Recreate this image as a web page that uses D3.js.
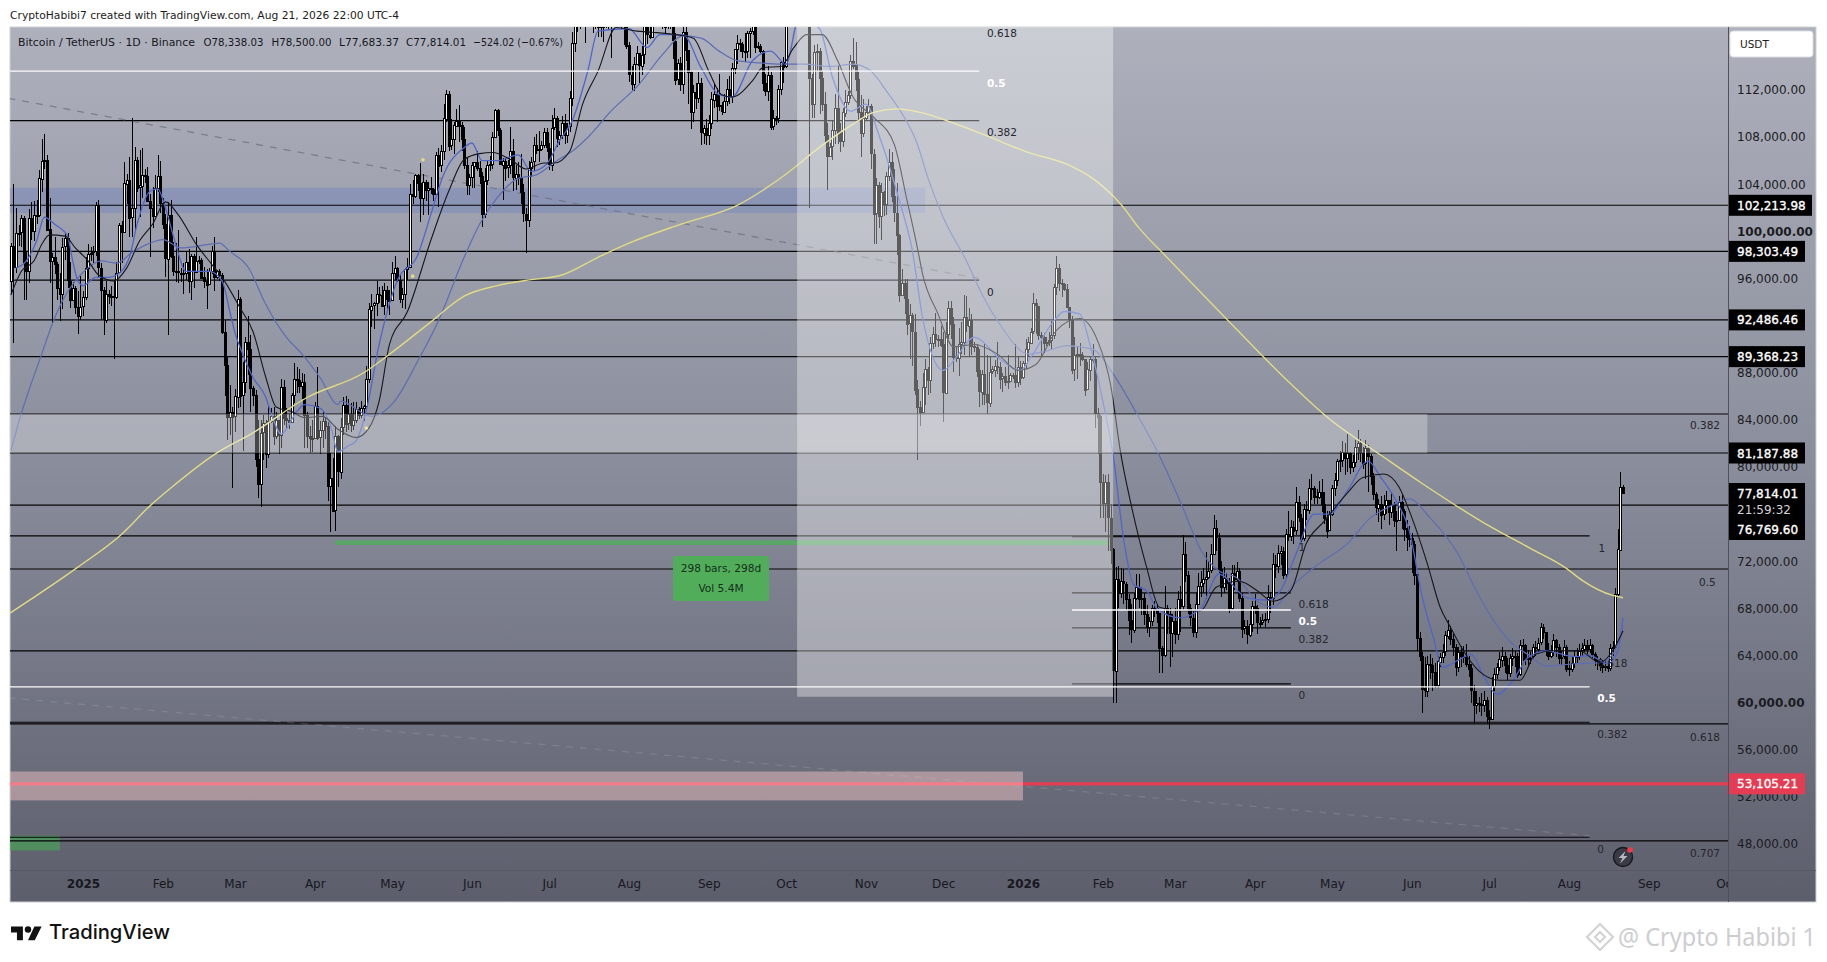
<!DOCTYPE html>
<html><head><meta charset="utf-8">
<script src="https://cdn.jsdelivr.net/npm/d3@7/dist/d3.min.js"></script>
<style>html,body{margin:0;padding:0;background:#fff;overflow:hidden}svg{display:block}text{font-family:"DejaVu Sans",sans-serif}</style>
</head><body><svg id="c" width="1827" height="962"></svg>
<script>
// ---- Daily candles in thousands USDT, first bar 2024-12-03, one row per month ----
const firstBar = "2024-12-03";
const closes = [
95.8,98.8,97.0,99.9,99.9,101.1,97.4,96.6,101.1,100.0,101.4,101.4,104.5,106.0,106.1,100.2,97.5,97.8,97.2,95.2,94.7,98.7,99.4,95.8,94.2,95.2,93.6,92.8,93.6,
94.4,96.9,98.1,98.2,98.3,102.2,96.9,95.0,92.5,94.7,94.5,94.5,94.5,96.5,100.5,99.9,104.1,104.4,101.2,102.0,106.1,103.7,103.9,104.8,104.7,102.6,102.0,101.3,103.7,104.7,102.4,
100.6,97.7,101.4,97.9,96.6,96.6,96.5,96.4,96.5,97.4,95.8,97.9,96.6,97.5,97.6,96.1,95.8,95.5,96.6,98.3,96.1,96.6,96.3,91.5,88.7,84.3,84.7,84.3,
86.0,94.3,86.1,87.2,90.6,90.0,86.7,86.1,80.7,78.6,82.9,83.7,81.1,83.9,84.3,82.6,84.0,82.7,86.8,84.2,84.0,83.8,86.1,87.5,87.4,86.9,87.2,84.4,82.6,82.4,82.5,
85.2,82.5,83.1,83.9,83.5,78.4,79.1,76.3,82.6,79.6,83.4,85.3,83.7,84.5,83.6,84.0,84.9,84.4,85.0,85.2,87.5,93.4,93.7,93.9,94.7,94.6,93.7,95.0,94.2,94.2,
96.5,96.9,95.9,94.3,94.7,96.8,97.0,103.2,103.0,104.8,104.1,102.8,104.2,103.5,103.7,103.6,103.2,106.5,105.6,106.8,109.6,111.7,107.3,107.8,109.0,109.4,109.0,107.8,105.6,103.9,104.6,
105.6,105.9,105.4,104.7,101.5,104.3,105.6,105.7,108.0,110.3,108.6,105.7,106.0,105.4,105.6,106.8,104.6,104.9,104.6,103.3,101.5,101.0,105.4,105.9,107.3,106.9,107.0,107.3,108.4,107.1,
105.7,108.8,109.6,107.9,108.2,109.2,108.2,108.9,111.3,116.0,117.5,117.4,119.1,120.0,117.8,118.6,119.2,118.0,117.9,117.3,117.4,120.0,118.8,118.3,117.6,117.9,119.4,118.1,117.9,117.8,115.8,
113.3,112.5,114.2,115.1,114.1,115.0,117.5,116.7,116.5,119.3,118.7,120.2,123.3,118.3,117.4,117.5,117.5,116.2,112.9,114.3,112.5,116.9,115.4,113.5,110.1,111.8,111.3,112.6,108.4,108.8,108.2,
109.2,111.2,111.7,110.7,110.7,110.2,111.1,112.1,111.5,113.9,115.5,116.0,115.9,115.3,115.3,116.8,117.0,117.5,115.6,115.7,115.3,112.6,111.9,113.3,108.9,109.6,109.6,112.1,114.4,114.0,
118.6,120.6,122.3,122.4,123.5,124.7,121.3,123.3,121.7,113.0,110.8,115.2,115.3,113.0,110.8,108.2,106.4,107.2,108.6,110.5,108.4,107.6,110.1,111.0,111.6,114.5,114.1,112.9,110.1,108.3,109.6,
110.1,110.6,106.6,101.5,103.9,101.3,103.3,102.3,104.7,105.9,103.0,101.6,99.7,94.6,95.6,94.3,92.2,92.9,91.5,86.6,85.1,84.7,86.8,88.3,87.4,90.5,91.3,90.9,90.9,90.4,
86.3,91.3,93.5,92.1,89.3,89.2,90.4,90.6,92.7,92.0,92.5,90.3,90.2,88.2,86.4,87.9,86.2,85.5,88.1,88.3,88.6,88.5,87.5,87.7,87.2,87.3,87.8,87.8,87.2,88.5,87.6,
88.8,90.0,90.6,91.5,93.9,93.7,91.2,91.0,90.5,90.6,90.8,91.2,95.3,96.9,95.6,95.5,95.1,93.6,92.6,88.3,89.5,89.6,89.5,89.2,86.6,88.3,89.2,89.2,84.6,84.3,78.7,
76.9,78.7,75.7,73.0,62.7,70.5,69.3,70.3,70.1,68.8,67.0,66.2,68.9,69.8,68.8,68.9,67.5,66.4,66.9,68.0,68.0,67.6,64.6,64.0,68.0,67.5,65.9,66.9,
65.8,68.8,68.2,72.6,70.8,68.0,67.2,66.0,68.4,69.9,70.2,70.5,70.7,71.2,72.6,74.8,74.0,71.3,69.8,70.6,70.2,68.0,71.0,70.5,71.2,68.9,66.3,66.5,65.8,66.7,68.2,
68.0,66.8,66.8,67.0,67.1,69.0,68.9,71.8,71.6,72.7,72.9,70.9,74.3,74.1,74.9,74.6,77.0,75.7,73.9,76.4,76.3,78.2,78.2,77.4,77.5,77.9,76.9,75.7,74.6,76.0,
78.2,78.9,80.5,80.6,81.3,80.8,81.2,80.0,80.4,81.7,82.0,81.2,80.3,81.6,80.9,79.2,77.7,76.6,76.9,76.0,76.8,77.2,76.2,76.9,75.5,75.5,77.0,76.3,74.8,74.0,74.0,
73.5,70.9,65.5,64.0,61.2,61.0,63.3,63.2,62.6,61.5,63.5,63.9,64.3,65.7,66.2,65.4,64.7,63.0,64.3,64.0,63.9,63.3,62.9,61.0,59.8,60.0,59.9,59.8,60.2,58.8,
58.6,61.4,62.4,63.0,63.7,64.0,63.2,62.5,63.8,64.0,64.0,62.4,64.9,64.9,63.7,63.8,63.9,64.7,64.6,65.1,66.4,66.0,64.5,64.0,64.3,65.3,64.7,63.8,63.9,64.7,62.8,
62.9,63.4,64.0,64.0,64.4,64.6,64.9,64.6,64.9,64.1,63.6,63.5,63.2,63.0,63.1,62.9,64.6,64.7,69.2,73.0,78.338,77.814];
const highs = [
96.3,99.0,104.0,102.0,100.5,101.4,101.3,98.3,101.9,102.5,102.6,102.7,105.2,107.8,108.3,106.5,102.8,98.2,99.5,97.4,96.5,99.4,99.9,99.9,97.4,95.7,95.4,94.9,96.2,
94.9,97.8,98.9,98.7,98.8,102.5,102.7,97.3,95.3,95.8,95.0,95.4,95.9,97.4,100.7,100.9,105.9,104.9,106.3,109.6,107.2,106.3,106.9,107.1,105.3,105.5,103.2,103.8,104.8,106.5,106.0,
102.8,101.5,102.5,102.7,99.1,99.0,100.1,96.9,97.3,98.3,98.5,98.1,98.1,99.5,97.9,97.7,97.0,96.8,96.9,98.8,99.5,96.7,96.8,96.5,92.5,89.3,87.0,85.1,
86.6,95.0,94.4,88.9,91.0,92.8,91.2,86.9,86.5,84.0,84.0,84.4,84.0,85.3,85.0,85.1,84.7,84.0,87.5,87.4,85.0,84.5,86.3,88.8,88.5,88.3,88.0,87.9,84.7,83.5,84.0,
85.5,88.5,83.9,84.7,84.2,83.8,81.2,80.8,83.5,82.7,84.2,85.9,86.0,85.8,85.4,85.5,85.5,85.1,85.6,85.3,88.6,93.9,94.7,94.0,95.8,95.3,95.4,95.6,95.4,95.0,
97.4,97.9,97.0,96.3,95.2,96.9,97.7,104.0,104.4,104.9,104.9,105.8,104.9,104.4,104.2,104.6,103.7,106.7,107.1,107.3,110.8,112.0,111.9,109.5,109.3,110.4,110.7,109.3,108.9,106.3,104.9,
105.9,105.9,106.8,106.0,105.0,105.4,106.0,106.4,108.4,110.4,110.4,108.8,106.2,106.2,106.1,108.9,107.8,105.6,105.9,106.6,104.0,102.0,106.0,106.3,108.0,108.3,108.5,107.7,108.8,108.8,
107.5,109.9,110.5,109.8,108.5,109.8,110.0,109.2,111.9,116.9,118.9,118.0,119.5,123.2,120.1,120.0,120.9,120.9,118.5,118.9,119.7,120.2,120.1,119.5,118.5,118.5,119.8,119.8,119.3,118.8,118.9,
116.1,114.0,114.8,115.7,115.1,115.7,117.7,117.9,117.9,119.4,122.3,120.3,123.7,124.5,119.2,118.0,118.6,117.6,116.8,114.6,114.8,117.4,117.4,115.3,113.6,112.4,112.6,113.5,113.0,109.0,109.5,
109.9,111.8,112.6,112.2,113.4,111.0,111.7,112.9,113.2,114.3,115.5,116.7,116.3,116.1,116.8,117.0,117.3,118.0,117.5,116.1,115.9,115.4,113.4,114.0,113.5,110.3,109.8,112.4,114.5,114.8,
118.6,121.0,123.9,122.8,125.7,126.2,125.1,124.2,123.8,122.5,113.4,115.8,115.9,115.6,113.6,111.8,109.2,107.5,109.4,111.7,114.0,109.2,110.5,112.0,111.9,115.0,116.4,116.1,113.6,111.6,111.2,
110.6,111.2,110.8,107.0,104.5,104.2,104.1,103.4,105.0,107.0,106.7,105.3,104.1,99.8,96.8,96.0,96.0,93.8,93.1,93.0,87.4,85.6,88.0,89.2,88.5,91.0,91.9,93.1,91.2,92.0,
91.5,92.3,94.1,94.1,92.7,90.3,91.8,92.3,94.6,94.5,93.5,93.0,90.6,90.4,90.0,88.2,90.4,89.5,89.4,88.6,89.1,90.6,88.9,88.0,88.5,89.5,88.0,88.0,90.4,89.4,89.0,
89.0,90.9,91.0,91.8,94.8,94.3,93.6,91.5,91.4,91.0,91.5,92.4,95.5,97.9,97.2,96.0,95.6,95.5,93.4,92.8,91.0,90.3,90.5,89.8,89.2,88.9,89.4,90.4,89.3,85.0,84.4,
79.4,79.3,79.4,76.9,73.1,71.5,71.6,71.4,71.3,70.2,69.2,68.4,69.3,70.9,70.9,69.8,69.3,68.3,67.3,68.3,68.6,68.4,67.6,64.8,69.9,68.3,68.0,67.5,
68.0,69.5,69.9,74.2,73.6,71.2,68.4,67.8,69.3,71.0,71.2,71.4,72.8,72.0,73.5,75.9,75.5,74.4,72.0,71.5,71.0,70.6,71.7,71.7,71.9,71.4,69.3,67.0,67.0,67.9,68.6,
69.2,68.3,67.3,67.5,67.6,70.0,69.4,72.7,72.5,73.4,73.3,73.2,74.7,76.3,75.5,75.4,78.3,77.5,76.0,76.9,77.1,79.0,79.4,78.4,78.1,78.8,79.0,77.9,76.3,76.3,
78.5,79.5,80.7,81.4,82.2,82.0,82.8,81.3,81.0,82.3,83.1,82.4,81.7,82.3,81.9,81.1,79.5,77.9,77.3,77.5,77.6,78.0,77.0,77.9,77.0,76.3,77.5,77.6,76.4,75.5,75.0,
74.4,73.7,71.0,66.0,64.3,63.9,64.0,64.1,63.8,63.4,64.0,64.2,65.0,66.1,67.0,66.5,65.8,65.0,64.7,64.8,64.8,65.0,64.0,63.3,61.5,61.0,60.5,60.8,61.0,60.5,
59.4,62.2,62.9,63.4,64.3,64.7,64.3,63.8,64.1,64.6,64.4,64.2,65.3,65.4,65.0,64.5,64.3,65.0,65.2,65.5,66.8,66.7,66.0,65.1,64.9,65.8,65.4,65.0,64.5,65.3,64.9,
63.5,64.0,64.4,64.6,65.0,65.1,65.4,65.3,65.4,65.0,64.3,64.0,63.8,63.6,63.6,63.4,65.0,65.2,69.7,74.7,79.6,78.5];
const lows = [
93.6,94.7,90.5,96.5,98.8,98.7,94.2,94.2,95.6,99.3,99.2,100.6,101.2,103.3,105.3,100.0,95.6,92.2,96.4,94.2,92.4,93.4,97.6,95.2,93.5,94.1,93.0,91.3,92.5,
92.8,94.2,96.0,97.5,97.3,97.9,96.1,92.5,91.2,92.2,93.8,93.7,89.2,94.3,96.5,97.3,100.0,102.3,99.5,99.5,100.1,103.3,101.2,102.8,104.1,102.5,97.8,100.3,101.3,103.3,101.6,
100.2,96.1,91.2,97.7,96.2,95.7,95.6,95.7,94.7,95.9,94.8,94.2,95.2,96.5,97.2,96.0,95.2,93.4,95.5,96.4,94.9,96.0,95.8,91.3,86.0,82.3,82.7,78.2,
83.0,85.0,85.1,81.4,86.3,87.8,84.7,85.2,80.0,77.4,76.6,80.6,79.9,80.8,83.7,81.9,82.4,81.1,81.6,83.6,83.2,83.2,83.7,85.4,86.3,86.3,85.8,81.6,81.6,81.2,81.3,
82.4,82.3,81.1,81.6,82.4,77.1,74.5,76.2,74.6,78.3,79.0,82.7,83.0,83.1,83.0,83.1,83.7,84.1,84.2,83.9,85.1,87.1,91.9,91.7,92.8,93.9,93.6,92.9,93.4,92.9,
94.1,95.9,95.7,93.9,93.5,93.4,95.9,96.9,102.3,102.8,103.4,100.8,101.4,102.6,101.4,103.2,102.6,103.1,102.1,105.0,106.1,109.3,106.8,106.9,106.6,108.9,107.6,106.8,105.3,103.1,103.1,
103.7,103.7,105.1,104.0,100.4,101.1,103.9,105.1,105.3,108.3,108.1,105.6,102.7,104.3,104.5,104.9,103.4,103.5,103.9,102.3,100.8,98.2,100.4,104.6,105.1,106.6,105.9,106.8,107.1,106.7,
105.2,105.1,108.6,107.2,107.3,107.8,107.4,107.5,108.4,110.6,115.2,116.9,117.2,118.9,116.0,117.4,117.7,116.8,117.2,116.5,116.5,116.1,117.3,117.1,114.7,117.4,117.8,117.4,117.2,115.8,115.5,
112.7,112.0,111.9,114.1,112.6,113.3,114.2,115.9,116.3,116.5,118.1,118.2,118.9,117.2,116.8,117.2,117.2,114.6,112.4,112.4,111.9,111.7,114.5,110.8,108.7,109.3,110.4,110.9,107.3,107.4,107.3,
107.3,108.7,110.5,109.3,110.2,109.9,110.1,110.6,110.8,110.9,113.4,114.2,115.2,114.7,114.4,114.7,114.7,116.7,115.1,115.5,115.1,111.9,111.5,111.1,108.6,108.6,109.0,109.2,111.6,112.6,
113.9,118.3,119.3,121.6,122.1,123.1,120.6,121.0,119.8,102.0,109.6,109.6,113.6,110.0,110.2,107.5,103.5,106.3,106.1,107.4,107.4,106.7,107.2,109.7,110.7,111.2,113.8,111.9,109.4,106.3,108.0,
109.4,109.8,105.3,98.9,98.9,100.3,99.3,101.3,101.4,104.3,102.5,100.8,98.0,94.0,94.6,93.0,91.2,89.2,88.6,86.1,80.6,83.5,84.7,85.3,86.1,86.3,90.0,90.2,90.2,90.2,
83.8,86.2,90.9,90.9,88.1,88.9,87.7,89.6,89.5,91.5,89.3,89.5,89.8,87.6,85.1,85.3,85.3,84.5,85.1,87.9,87.6,87.9,86.6,86.4,86.9,86.6,87.2,87.5,86.7,86.8,87.0,
87.5,88.3,89.3,90.5,91.3,91.3,90.8,89.3,89.7,90.3,90.3,90.0,90.9,94.6,94.9,94.4,94.9,93.5,91.8,87.9,87.3,87.5,88.6,89.0,86.0,86.5,87.3,88.8,83.3,81.1,75.7,
75.7,74.5,72.9,71.8,60.0,60.0,68.0,68.9,68.4,67.9,65.7,65.1,65.9,68.7,68.0,67.4,66.6,65.9,65.6,66.5,67.3,66.8,62.5,62.5,63.9,65.8,63.0,63.9,
65.0,65.3,66.0,67.9,70.2,67.5,66.5,65.6,65.5,68.4,69.0,69.3,68.8,70.5,71.0,72.5,72.9,71.0,69.0,69.3,69.6,67.6,67.9,69.6,70.2,68.5,65.5,65.8,65.0,65.6,66.0,
67.5,65.8,66.3,66.6,66.4,66.8,67.6,68.3,70.6,71.0,71.7,70.5,70.6,73.7,73.7,73.5,74.2,75.3,73.6,73.7,75.5,76.0,77.2,76.9,76.9,77.3,76.2,75.2,74.0,74.8,
75.8,77.5,78.4,79.6,80.0,79.3,79.6,79.4,79.6,80.0,80.6,80.4,79.8,79.0,77.9,78.5,77.2,75.9,75.3,74.7,75.5,76.0,75.1,75.7,74.9,72.9,75.5,74.7,73.7,72.9,73.2,
71.0,70.0,64.4,63.5,59.1,60.5,60.5,62.0,61.0,61.2,61.2,63.0,63.4,64.0,65.4,64.9,64.0,62.3,62.6,63.0,63.4,63.0,62.2,60.0,58.2,59.0,59.2,58.9,59.2,58.2,
57.8,58.5,61.0,62.0,62.7,63.0,62.5,61.9,62.2,63.1,63.0,62.1,62.3,63.5,63.2,63.0,63.3,63.7,64.0,64.3,64.9,65.4,64.0,63.6,63.8,64.0,63.9,63.3,63.2,63.7,62.6,
62.3,62.6,62.9,63.4,63.6,64.0,64.3,64.1,64.2,63.8,63.1,62.8,62.7,62.5,62.7,62.6,62.7,64.0,64.5,69.0,73.1,77.683];

// ---- Moving averages: day counted from 2025-01-01, value in thousands USDT ----
const maLongDays = [-29,-20,-2,15,26,34,52,66,87,109,121,135,148,161,174,186,200,212,232,254,272,287,299,307,316,325,338,351,367,382,392,403,410,420,443,465,485,504,520,546,562,576,582,594,598];
const maLongVals = [67.5,68.8,71.5,74.3,76.7,78.2,81.2,82.9,85.9,88.0,89.9,92.3,94.5,95.4,95.9,96.3,97.8,99.0,100.6,102.2,104.7,107.3,109.1,110.1,110.4,110.1,109.2,108.1,106.7,105.7,104.5,102.3,100.3,98.0,92.8,87.9,83.9,81.0,78.6,75.0,73.1,71.4,70.4,69.1,68.9];
const maFastDays = [-26,-22,-18,-15,-11,-6,-4,-2,0,5,10,13,18,21,26,29,32,36,40,49,54,57,59,62,66,71,73,77,83,86,92,96,99,103,106,110,115,122,130,135,140,148,151,155,161,169,174,180,185,190,196,200,212,219,224,233,240,247,252,260,267,273,278,286,291,298,304,309,317,322,326,334,339,346,357,364,368,377,381,387,391,396,400,404,408,413,417,426,434,441,452,460,465,471,478,484,491,499,504,510,515,520,524,528,534,539,544,549,555,561,568,579,585,592,596,598];
const maFastVals = [96.9,97.5,99.2,101.2,100.6,99.6,97.5,95.8,95.4,96.1,96.1,96.3,97.8,100.6,103.4,103.6,102.0,98.9,96.6,96.6,95.8,93.2,91.4,89.6,87.6,85.9,84.6,82.8,84.7,85.3,85.0,83.6,81.3,81.8,82.2,84.8,90.4,95.8,98.0,101.4,104.8,107.1,107.5,106.0,106.0,106.5,105.1,105.7,107.7,109.4,113.6,117.0,117.2,115.6,116.7,116.7,113.9,111.6,111.4,114.5,115.3,114.2,118.1,117.2,113.1,110.2,110.8,108.2,102.6,98.4,92.7,88.2,89.3,91.0,89.0,88.2,89.3,92.4,93.2,93.0,90.4,85.6,81.0,74.0,70.0,69.5,68.0,67.2,68.0,70.9,68.9,68.7,69.5,72.6,76.0,76.0,78.0,80.5,79.1,77.1,74.6,69.0,65.8,63.0,63.6,64.1,62.2,60.7,61.8,63.8,64.4,63.9,64.0,63.3,64.4,67.2];
const maMidDays = [-28,-24,-19,-16,-13,-7,-3,2,6,12,17,22,27,32,37,44,50,54,61,66,71,75,81,86,93,99,106,111,115,119,126,135,142,148,154,159,166,172,179,183,189,194,200,207,215,221,230,237,243,248,252,260,264,271,276,281,287,293,299,307,315,320,324,326,332,338,346,355,363,370,378,387,394,399,403,407,413,418,426,434,440,449,456,462,469,475,482,491,497,505,511,516,522,527,531,536,542,550,558,564,571,581,589,594,598];
const maMidVals = [94.6,96.6,97.5,98.9,99.7,99.6,98.6,97.5,96.3,95.8,96.9,99.2,100.6,102.5,101.4,98.9,97.2,96.1,93.5,91.5,87.6,85.1,84.7,84.2,84.3,83.2,82.5,83.3,85.6,90.4,93.2,99.2,103.4,106.1,106.6,106.7,106.1,105.3,105.8,105.8,106.8,110.8,113.6,117.3,117.0,116.9,116.7,116.4,113.6,111.6,111.4,112.8,113.9,114.0,115.6,116.7,116.7,114.5,111.4,109.7,107.4,102.6,98.6,96.4,93.0,90.2,90.4,89.6,88.2,88.7,91.6,92.6,90.7,87.0,81.1,76.8,71.5,68.1,67.8,67.8,69.8,70.3,69.5,68.6,69.5,73.5,75.4,77.8,79.1,79.4,78.3,75.7,71.8,68.1,66.4,64.4,62.7,61.9,61.9,64.1,64.4,64.4,63.4,64.4,66.1];
const maSlowDays = [-28,-24,-16,-12,-8,-3,2,7,13,19,26,31,38,49,53,57,64,71,79,85,92,99,100,112,121,130,138,148,154,161,169,176,184,190,197,205,216,225,233,240,247,254,263,271,280,290,299,306,312,318,324,328,334,343,349,357,367,375,382,392,400,410,417,426,435,441,448,456,462,470,480,491,500,507,515,523,534,541,548,555,561,568,579,589,594,598];
const maSlowVals = [81.4,84.5,89.6,92.1,94.1,95.8,96.9,97.5,97.3,98.2,99.0,99.3,98.6,98.9,99.0,98.3,97.0,93.8,91.0,89.6,87.6,85.3,85.6,84.3,85.6,89.0,92.4,97.8,100.6,102.9,104.5,104.8,106.0,106.8,108.2,110.2,112.5,115.0,116.6,116.4,115.3,114.5,114.3,114.2,114.2,114.0,114.2,113.6,111.9,110.0,107.4,104.6,101.2,97.5,94.7,91.8,89.6,89.9,90.3,90.0,87.9,84.2,81.4,77.1,72.6,71.2,70.6,68.6,68.1,70.0,71.8,73.5,75.7,76.6,77.3,75.7,72.6,69.5,66.9,65.0,64.1,63.1,63.3,63.4,64.1,66.5];

// ---- Drawn levels: [value, first day, last day] ----
const DAYL = -29, FIB3 = 348, FIBR = 585, FIB2A = 384, FIB2B = 469, END = 640;
const blackLevels = [[109.4,DAYL,FIB3],[102.21398,DAYL,END],[98.30349,DAYL,END],[95.86,DAYL,FIB3],[92.48646,DAYL,END],[89.36823,DAYL,END],[84.5,DAYL,END],[81.18788,DAYL,END],[76.7696,DAYL,END],[74.15,DAYL,FIBR],[74.08,FIB2A,FIB2B],[71.34,DAYL,END],[69.31,FIB2A,FIB2B],[66.34,FIB2A,FIB2B],[64.39,DAYL,FIBR],[61.59,FIB2A,FIB2B],[58.33,DAYL,FIBR],[58.2,DAYL,END],[48.57,DAYL,FIBR],[48.27,DAYL,END]];
const whiteLevels = [[113.6,DAYL,FIB3],[67.86,FIB2A,FIB2B],[61.33,DAYL,FIBR]];
const fibLabels = [["0.618",FIB3+3,116.84,0],["0.5",FIB3+3,112.6,1],["0.382",FIB3+3,108.44,0],["0",FIB3+3,94.87,0],
 ["1",FIB2A+88,73.17,0],["0.618",FIB2B+3,68.34,0],["0.5",FIB2B+3,66.9,1],["0.382",FIB2B+3,65.37,0],["0",FIB2B+3,60.62,0],
 ["1",FIBR+3.5,73.15,0],["0.618",FIBR+3,63.4,0],["0.5",FIBR+3,60.4,1],["0.382",FIBR+3,57.3,0],["0",FIBR+3,47.6,0],
 ["0.382",624,83.55,0],["0.5",627.5,70.25,0],["0.618",624,57.1,0],["0.707",624,47.2,0]];
const trendDays1 = [-29,348], trendVals1 = [111.3,96.0];
const trendDays2 = [-29,585], trendVals2 = [60.4,48.7];
const dotDays = [132,128,110], dotVals = [106.07,96.2,83.3];

// ---- Axis text ----
const priceTicks = [112,108,104,100,96,88,84,80,72,68,64,60,56,52,48];
const boldPrices = [100,60];
const priceTags = [[102.21398,"102,213.98"],[98.30349,"98,303.49"],[92.48646,"92,486.46"],[89.36823,"89,368.23"],[81.18788,"81,187.88"]];
const monthTicks = ["2025-01-01","2025-02-01","2025-03-01","2025-04-01","2025-05-01","2025-06-01","2025-07-01","2025-08-01","2025-09-01","2025-10-01","2025-11-01","2025-12-01","2026-01-01","2026-02-01","2026-03-01","2026-04-01","2026-05-01","2026-06-01","2026-07-01","2026-08-01","2026-09-01","2026-10-01"];

const L=10,R=1728,T=27,B=870,FR=1816,FB=902;
const svg=d3.select("#c"), defs=svg.append("defs");
const day0=new Date(Date.UTC(2025,0,1));
const x=d3.scaleUtc().domain([day0,new Date(Date.UTC(2026,0,1))]).range([83,83+365*2.5753]);
const xd=d=>x(d3.utcDay.offset(day0,Math.floor(d)))+(d-Math.floor(d))*2.5753;
const y=d3.scaleLinear().domain([48,112]).range([844,90]);

const g=defs.append("linearGradient").attr("id","bg").attr("x1",0).attr("x2",0).attr("y1",0).attr("y2",1);
[[0,"#aeb1bc"],[.5,"#8a8d9b"],[1,"#5c5e6c"]].forEach(s=>g.append("stop").attr("offset",s[0]).attr("stop-color",s[1]));
defs.append("clipPath").attr("id","plot").append("rect").attr("x",L).attr("y",T).attr("width",R-L).attr("height",B-T);
defs.append("clipPath").attr("id","tx").append("rect").attr("x",L).attr("y",B).attr("width",R-L).attr("height",FB-B);

svg.append("rect").attr("x",L).attr("y",T).attr("width",FR-L).attr("height",FB-T).attr("fill","url(#bg)").attr("stroke","#cfcfd2").attr("stroke-width",1);

const plot=svg.append("g").attr("clip-path","url(#plot)");
const band=(d0,d1,v0,v1,fill,parent)=>(parent||plot).append("rect").attr("x",xd(d0)).attr("width",xd(d1)-xd(d0)).attr("y",y(v0)).attr("height",y(v1)-y(v0)).attr("fill",fill);

// lower layers
band(DAYL,327,103.7,101.57,"rgba(110,128,190,.42)");
band(98,398,73.78,73.38,"rgba(84,170,96,.85)");
band(DAYL,-9,48.7,47.45,"rgba(72,165,85,.65)");

const hl=(lv,col,w)=>plot.append("g").selectAll("line").data(lv).join("line")
 .attr("x1",d=>xd(d[1])).attr("x2",d=>xd(d[2])).attr("y1",d=>y(d[0])).attr("y2",d=>y(d[0]))
 .attr("stroke",col).attr("stroke-width",w);
hl(blackLevels,"#050507",1.15);
const tl=(ds,vs,col)=>plot.append("path").datum(ds.map((d,i)=>[d,vs[i]])).attr("fill","none").attr("stroke",col).attr("stroke-width",1.3).attr("stroke-dasharray","7 7").attr("d",d3.line().x(d=>xd(d[0])).y(d=>y(d[1])));
tl(trendDays1,trendVals1,"rgba(110,113,125,.75)");
tl(trendDays2,trendVals2,"rgba(190,193,202,.2)");
plot.append("line").attr("x1",L).attr("x2",R).attr("y1",y(53.10521)).attr("y2",y(53.10521)).attr("stroke","#e43c52").attr("stroke-width",3.2);

// candles
const start=new Date(firstBar+"T00:00:00Z");
const bars=closes.map((c,i)=>{const o=i?closes[i-1]:95.4;return{t:d3.utcDay.offset(start,i),o,c,h:Math.max(highs[i],o,c),l:Math.min(lows[i],o,c)}});
const cx=d=>Math.round(x(d.t));
const cg=plot.append("g").attr("shape-rendering","crispEdges");
cg.selectAll("line").data(bars).join("line").attr("x1",d=>cx(d)+.5).attr("x2",d=>cx(d)+.5).attr("y1",d=>y(d.h)).attr("y2",d=>y(d.l)).attr("stroke","#000").attr("stroke-width",1);
cg.selectAll("rect").data(bars).join("rect").attr("x",d=>cx(d)-.5).attr("width",2)
 .attr("y",d=>Math.round(y(Math.max(d.o,d.c)))+.5).attr("height",d=>Math.max(1,Math.round(Math.abs(y(d.o)-y(d.c)))))
 .attr("fill",d=>d.c>=d.o?"#fff":"#000").attr("stroke","#000").attr("stroke-width",1);

// moving averages
const ma=(ds,vs,col,w)=>plot.append("path").datum(ds.map((d,i)=>[d,vs[i]])).attr("fill","none").attr("stroke",col).attr("stroke-width",w).attr("stroke-linejoin","round")
 .attr("d",d3.line().curve(d3.curveMonotoneX).x(d=>xd(d[0])).y(d=>y(d[1])));
ma(maSlowDays,maSlowVals,"#5f6db3",1.2);
ma(maFastDays,maFastVals,"#4f66c8",1.3);
ma(maMidDays,maMidVals,"#16161c",1.1);
ma(maLongDays,maLongVals,"#e0db82",1.4);
plot.append("g").selectAll("circle").data(dotDays).join("circle").attr("cx",d=>xd(d)).attr("cy",(d,i)=>y(dotVals[i])).attr("r",1.8).attr("fill","#e3dc85");

// translucent overlays
band(277.3,400,117.5,60.5,"rgba(255,255,255,.36)");
band(DAYL,522,84.5,81.19,"rgba(255,255,255,.28)");
band(DAYL,365,54.15,51.7,"rgba(255,205,205,.45)");
hl(whiteLevels,"#fbfbfd",1.3);

// label over the chart
const lab=svg.append("g").attr("clip-path","url(#plot)");
lab.selectAll("text").data(fibLabels).join("text").attr("x",d=>xd(d[1])).attr("y",d=>y(d[2])+4)
 .attr("font-size",10.5).attr("fill",d=>d[3]?"#fff":"#25262d").attr("font-weight",d=>d[3]?"bold":"normal").text(d=>d[0]);

// measure label
const mx=721;
svg.append("rect").attr("x",673).attr("y",556).attr("width",96).attr("height",45).attr("rx",3).attr("fill","#52ad5a");
svg.append("text").attr("x",mx).attr("y",572).attr("text-anchor","middle").attr("font-size",10.6).attr("fill","#12301a").text("298 bars, 298d");
svg.append("text").attr("x",mx).attr("y",592).attr("text-anchor","middle").attr("font-size",10.6).attr("fill","#12301a").text("Vol 5.4M");

// price axis
svg.append("line").attr("x1",R+.5).attr("x2",R+.5).attr("y1",T).attr("y2",FB).attr("stroke","#4f515c").attr("stroke-width",1);
const ya=svg.append("g").attr("transform",`translate(${R},0)`).call(d3.axisRight(y).tickValues(priceTicks).tickSize(0).tickPadding(9).tickFormat(v=>d3.format(",.2f")(v*1000)));
ya.select(".domain").remove();
ya.selectAll("text").attr("font-size",12).attr("font-family",'"DejaVu Sans"').attr("fill","#1b1c22").attr("font-weight",v=>boldPrices.includes(v)?"bold":"normal");

// price tags
const tags=svg.append("g");
const tt=(xp,yp,s,col,st)=>tags.append("text").attr("x",xp).attr("y",yp).attr("font-size",12).attr("fill",col).attr("stroke",st?col:"none").attr("stroke-width",st?.35:0).text(s);
const tag=(v,s,col)=>{const yy=y(v),w=s.length>9?83:76;
 tags.append("rect").attr("x",R+1).attr("y",yy-10.5).attr("width",w).attr("height",21).attr("fill",col);
 tt(R+9,yy+4.5,s,"#fff",1);};
priceTags.forEach(d=>tag(d[0],d[1],"#000"));
tag(53.10521,"53,105.21","#e43c52");
tags.append("rect").attr("x",R+1).attr("y",483).attr("width",76).attr("height",57).attr("fill","#000");
tt(R+9,497.5,"77,814.01","#fff",1);
tt(R+9,513.5,"21:59:32","#d4d4d8",0);
tt(R+9,533.5,"76,769.60","#fff",1);

// USDT button
svg.append("rect").attr("x",1730).attr("y",31).attr("width",83).attr("height",26).attr("rx",3).attr("fill","#fff").attr("stroke","#dcdde2");
svg.append("text").attr("x",1740).attr("y",48).attr("font-size",10.5).attr("fill","#1b1c22").text("USDT");

// time axis
svg.append("line").attr("x1",L).attr("x2",FR).attr("y1",B+.5).attr("y2",B+.5).attr("stroke","#555763").attr("stroke-width",.8);
const monthDates=monthTicks.map(s=>new Date(s+"T00:00:00Z"));
const xa=svg.append("g").attr("clip-path","url(#tx)").append("g").attr("transform",`translate(0,${B})`)
 .call(d3.axisBottom(x).tickValues(monthDates).tickSize(0).tickPadding(9).tickFormat(d=>d.getUTCMonth()===0?String(d.getUTCFullYear()):d3.utcFormat("%b")(d)));
xa.select(".domain").remove();
xa.selectAll("text").attr("font-size",12).attr("font-family",'"DejaVu Sans"').attr("fill","#17181e").attr("font-weight",d=>d.getUTCMonth()===0?"bold":"normal");

// alert icon
const ic=svg.append("g").attr("transform","translate(1623,857)");
ic.append("circle").attr("r",9.5).attr("fill","#3a3b45").attr("stroke","#17181e").attr("stroke-width",1.4);
ic.append("path").attr("d","M2.5-6 L-4.5 1 L-.5 1 L-3 6.5 L4.5-1 L.5-1 Z").attr("fill","#b7b8c2");
ic.append("circle").attr("cx",7).attr("cy",-7).attr("r",2.8).attr("fill","#f03a4a");

// heading texts
svg.append("text").attr("x",10).attr("y",19).attr("font-size",11).attr("textLength",389).attr("lengthAdjust","spacingAndGlyphs").attr("fill","#1c1c22").text("CryptoHabibi7 created with TradingView.com, Aug 21, 2026 22:00 UTC-4");
const legend=[["Bitcoin / TetherUS · 1D · Binance",18,177],["O78,338.03",203.5,60],["H78,500.00",271.5,60],["L77,683.37",339,60],["C77,814.01",406,60],["−524.02 (−0.67%)",473,90]];
svg.append("g").selectAll("text").data(legend).join("text").attr("x",d=>d[1]).attr("y",46).attr("font-size",11).attr("textLength",d=>d[2]).attr("lengthAdjust","spacingAndGlyphs").attr("fill","#17181e").text(d=>d[0]);

// footer
const tv=svg.append("g").attr("transform","translate(11,921.5) scale(.85)");
tv.append("path").attr("d","M14 6H0v7h7v9h7V6z M28 22h-8l7.5-16H36L28 22z").attr("fill","#111");
tv.append("circle").attr("cx",20).attr("cy",9.5).attr("r",3.8).attr("fill","#111");
svg.append("text").attr("x",49).attr("y",939).attr("font-size",20).attr("font-weight",500).style("font-family","Inter").attr("textLength",121).attr("lengthAdjust","spacingAndGlyphs").attr("fill","#111").text("TradingView");
const wm=svg.append("g").attr("stroke","#d3d3d6").attr("fill","none").attr("stroke-width",2.2).attr("transform","translate(1600,937)");
wm.append("path").attr("d","M0-13 L13 0 L0 13 L-13 0 Z M0-5 L5 0 L0 5 L-5 0 Z");
svg.append("text").attr("x",1618).attr("y",946).style("font-family","'Noto Sans'").attr("font-size",24.5).attr("fill","#cdcdd0").attr("textLength",198).attr("lengthAdjust","spacingAndGlyphs").text("@ Crypto Habibi 1");
</script></body></html>
